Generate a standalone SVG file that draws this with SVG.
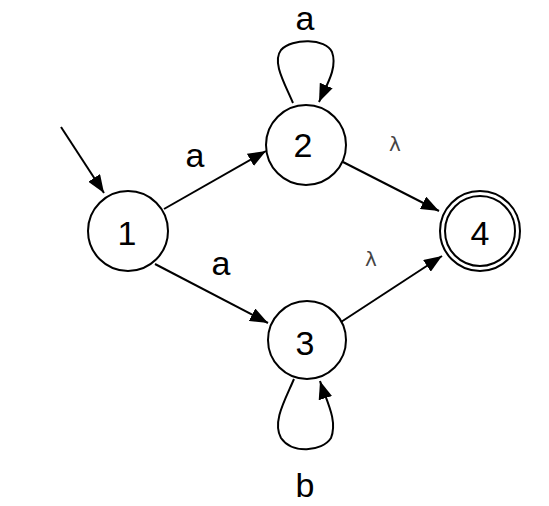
<svg xmlns="http://www.w3.org/2000/svg" width="549" height="506" viewBox="0 0 549 506">
<defs>
<marker id="arr" markerUnits="userSpaceOnUse" markerWidth="18" markerHeight="14" refX="18" refY="7" orient="auto">
<path d="M0,0 L18,7 L0,14 z" fill="#000"/>
</marker>
<style>
.node{fill:#fff;stroke:#000;stroke-width:2}
.edge{fill:none;stroke:#000;stroke-width:2;marker-end:url(#arr)}
.lbl{font-family:"Liberation Sans",Arial,sans-serif;font-size:34px;text-anchor:middle;fill:#000}
.lam{font-family:"DejaVu Sans",sans-serif;font-size:20px;text-anchor:middle;fill:#444}
</style>
</defs>
<rect width="549" height="506" fill="#fff"/>
<g id="connectors">
<path class="edge" d="M61,127 L104,193"/>
<path class="edge" d="M164,209 L266,151"/>
<path class="edge" d="M155,264 L268,323"/>
<path class="edge" d="M343,162 L439,211"/>
<path class="edge" d="M341,322 L442,256"/>
<path class="edge" d="M293,103 C284,82 272,62 281,50 C292,38 326,38 332,52 C338,68 326,86 319,102"/>
<path class="edge" d="M294,379 C285,400 272,422 281,438 C292,454 322,452 331,438 C338,420 326,400 320,381"/>
</g>
<g id="label-a-loop2"><text class="lbl" x="305" y="30">a</text></g>
<g id="label-b-loop3"><text class="lbl" x="305" y="497">b</text></g>
<g id="label-a-12"><text class="lbl" x="195" y="167">a</text></g>
<g id="label-a-13"><text class="lbl" x="221" y="275">a</text></g>
<g id="label-lam-24"><text class="lam" x="395" y="151">λ</text></g>
<g id="label-lam-34"><text class="lam" x="371" y="266">λ</text></g>
<g id="node1"><circle class="node" cx="128" cy="231" r="40"/><text class="lbl" x="127" y="245">1</text></g>
<g id="node2"><circle class="node" cx="306" cy="145" r="40"/><text class="lbl" x="303" y="157">2</text></g>
<g id="node3"><circle class="node" cx="307" cy="340" r="39"/><text class="lbl" x="305" y="355">3</text></g>
<g id="node4"><circle class="node" cx="480" cy="231" r="40"/><circle class="node" cx="480" cy="231" r="35"/><text class="lbl" x="480" y="245">4</text></g>
</svg>
